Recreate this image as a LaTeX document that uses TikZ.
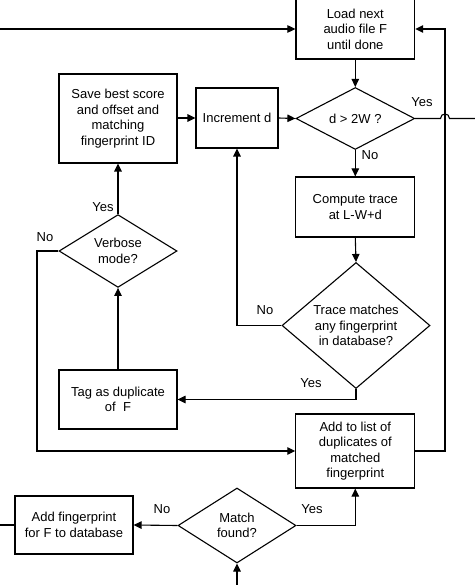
\documentclass[tikz,border=0pt]{standalone}
\usepackage{fontspec}
\setmainfont{Liberation Sans}
\usetikzlibrary{shapes.geometric,arrows.meta}
\begin{document}
\begin{tikzpicture}[x=1pt,y=-1pt,
  font=\fontsize{13}{15.5}\selectfont,
  every path/.style={line width=1.1pt},
  box/.style={draw,rectangle,inner sep=0pt,align=center,line width=1.1pt},
  dia/.style={draw,diamond,inner sep=0pt,align=center,line width=1.1pt},
  arr/.style={-{Triangle[length=8pt,width=7.5pt]}},
  lbl/.style={inner sep=0pt}]
\useasboundingbox (0,0) rectangle (474,585);
\fill[white] (0,0) rectangle (474,585);
% nodes
\node[box,minimum width=118.7pt,minimum height=60pt] (load) at (355.3,29) {Load next\\audio file F\\until done};
\node[dia,minimum width=118.7pt,minimum height=59pt] (d2w) at (355.3,118.5) {d > 2W ?};
\node[box,minimum width=118pt,minimum height=89pt] (save) at (118,118.5) {Save best score\\and offset and\\matching\\fingerprint ID};
\node[box,minimum width=82pt,minimum height=60pt] (inc) at (237,118) {Increment d};
\node[box,minimum width=119pt,minimum height=60pt] (comp) at (355.3,207) {Compute trace\\at L-W+d};
\node[dia,minimum width=148pt,minimum height=117pt] (trace) at (356,325.5) {Trace matches\\any fingerprint\\in database?};
\node[dia,minimum width=118pt,minimum height=58pt] (verb) at (118,251) {Verbose\\mode?};
\node[box,minimum width=118pt,minimum height=59pt] (tag) at (118,399.5) {Tag as duplicate\\of~ F};
\node[box,minimum width=119pt,minimum height=74pt] (addl) at (355.3,451) {Add to list of\\duplicates of\\matched\\fingerprint};
\node[dia,minimum width=118pt,minimum height=75pt] (match) at (237,525.5) {Match\\found?};
\node[box,minimum width=118pt,minimum height=58pt] (addfp) at (74,525) {Add fingerprint\\for F to database};
% free ends
\coordinate (lin) at (-3,29);
\coordinate (yesout) at (478,118.5);
\coordinate (fpout) at (-3,525);
\coordinate (min) at (237,590);
% labels
\node[lbl] (l1) at (422,102) {Yes};
\node[lbl] (l2) at (370,155) {No};
\node[lbl] (l3) at (265,310) {No};
\node[lbl] (l4) at (311,383) {Yes};
\node[lbl] (l5) at (103,207) {Yes};
\node[lbl] (l6) at (45,237) {No};
\node[lbl] (l7) at (312,509) {Yes};
\node[lbl] (l8) at (162,509) {No};
% connectors
\draw[arr] (lin) -- (load.west);
\draw[arr] (load.south) -- (d2w.north);
\draw[arr] (save.east |- inc.west) -- (inc.west);
\draw[arr] (inc.east) -- (d2w.west);
\draw (d2w.east) -- (440.5,118.5) .. controls (440.5,112.5) and (449.5,112.5) .. (449.5,118.5) -- (yesout);
\draw[arr] (d2w.south) -- (comp.north);
\draw[arr] (comp.south) -- (trace.north);
\draw[arr] (trace.west) -| (inc.south);
\draw[arr] (trace.south) |- (tag.east);
\draw[arr] (tag.north) -- (verb.south);
\draw[arr] (verb.north) -- (save.south);
\draw[arr] (verb.west) -- (37,251) |- (addl.west);
\draw[arr] (addl.east) -- (445,451) |- (load.east);
\draw[arr] (match.east) -| (addl.south);
\draw[arr] (match.west) -- (addfp.east);
\draw (addfp.west) -- (fpout);
\draw[arr] (min) -- (match.south);
\end{tikzpicture}
\end{document}
